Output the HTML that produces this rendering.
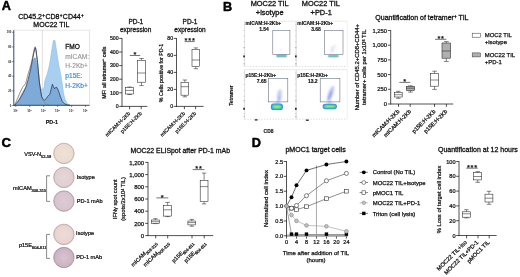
<!DOCTYPE html>
<html lang="en"><head><meta charset="utf-8"><title>Figure</title>
<style>
html,body{margin:0;padding:0;background:#fff;}
body{width:520px;height:277px;overflow:hidden;}
svg{display:block;font-family:"Liberation Sans", Arial, sans-serif;}
</style></head><body>
<svg width="520" height="277" viewBox="0 0 520 277">
<rect x="0" y="0" width="520" height="277" fill="#ffffff"/>
<text x="1.80" y="10.40" font-size="12.7" text-anchor="start" fill="#000" font-weight="bold" stroke="#000" stroke-width="0.5" stroke-linejoin="round">A</text>
<text x="51.00" y="18.60" font-size="7" text-anchor="middle" fill="#111" stroke="#111" stroke-width="0.29">CD45.2<tspan dy="-2" dx="0.3" font-size="4.6">+</tspan><tspan dy="2" font-size="1.6"> </tspan>CD8<tspan dy="-2" dx="0.3" font-size="4.6">+</tspan><tspan dy="2" font-size="1.6"> </tspan>CD44<tspan dy="-2" dx="0.3" font-size="4.6">+</tspan><tspan dy="2" font-size="1.6"> </tspan></text>
<text x="51.40" y="27.10" font-size="7" text-anchor="middle" fill="#111" stroke="#111" stroke-width="0.29">MOC22 TIL</text>
<line x1="13.80" y1="30.20" x2="89.60" y2="30.20" stroke="#c8c8c8" stroke-width="0.5"/>
<line x1="89.60" y1="30.20" x2="89.60" y2="105.30" stroke="#c8c8c8" stroke-width="0.5"/>
<line x1="42.30" y1="30.20" x2="42.30" y2="105.30" stroke="#bdbdbd" stroke-width="0.5"/>
<path d="M14.4,105.3 L16.0,103.8 L18.0,101.3 L20.0,97.3 L22.4,92.3 L25.0,88.3 L27.4,83.3 L29.6,74.3 L31.4,66.3 L33.0,60.3 L34.4,57.8 L35.6,58.3 L36.8,63.3 L38.0,72.3 L39.0,79.8 L39.9,86.8 L40.8,88.9 L43.4,89.1 L44.1,86.8 L44.8,80.8 L46.0,77.3 L47.3,73.8 L49.1,66.4 L50.2,60.3 L51.2,53.8 L52.0,48.8 L52.8,43.8 L53.5,40.3 L54.1,42.8 L54.8,40.1 L55.5,43.8 L56.3,48.8 L57.1,53.8 L58.0,60.3 L59.1,66.4 L60.9,75.3 L62.3,84.3 L63.6,93.3 L65.0,99.3 L67.0,103.3 L70.0,105.3" fill="#a9cff0" stroke="#7fb4e4" stroke-width="0.5" fill-opacity="1" stroke-linejoin="round"/>
<clipPath id="bclip"><path d="M14.4,105.3 L16.0,103.8 L18.0,101.3 L20.0,97.3 L22.4,92.3 L25.0,88.3 L27.4,83.3 L29.6,74.3 L31.4,66.3 L33.0,60.3 L34.4,57.8 L35.6,58.3 L36.8,63.3 L38.0,72.3 L39.0,79.8 L39.9,86.8 L40.8,88.9 L43.4,89.1 L44.1,86.8 L44.8,80.8 L46.0,77.3 L47.3,73.8 L49.1,66.4 L50.2,60.3 L51.2,53.8 L52.0,48.8 L52.8,43.8 L53.5,40.3 L54.1,42.8 L54.8,40.1 L55.5,43.8 L56.3,48.8 L57.1,53.8 L58.0,60.3 L59.1,66.4 L60.9,75.3 L62.3,84.3 L63.6,93.3 L65.0,99.3 L67.0,103.3 L70.0,105.3Z"/></clipPath>
<path d="M14.4,105.3 L15.5,103.3 L17.0,99.8 L19.5,93.8 L22.2,87.8 L24.2,85.3 L25.8,83.3 L27.6,75.8 L29.6,69.3 L30.9,64.8 L32.2,59.3 L33.3,53.8 L34.3,48.8 L35.0,46.8 L35.7,48.8 L36.4,54.3 L37.2,61.3 L37.9,66.8 L38.8,75.3 L39.8,85.3 L41.0,94.3 L42.6,99.8 L45.0,103.3 L49.0,105.3" fill="#ffffff" stroke="#8a8a8a" stroke-width="0.6" fill-opacity="0.0" stroke-linejoin="round"/>
<path d="M14.4,105.3 L16.0,103.8 L18.5,100.8 L21.0,96.8 L23.5,92.3 L26.0,86.8 L28.2,79.3 L30.2,71.3 L31.6,64.3 L32.8,58.3 L33.9,52.8 L34.8,48.8 L35.4,47.7 L36.1,50.3 L36.8,55.8 L37.6,62.3 L38.3,71.3 L39.1,80.3 L40.3,88.7 L41.6,96.5 L43.3,99.5 L44.6,100.3 L46.0,98.8 L47.6,96.5 L49.8,94.3 L51.1,89.5 L52.4,84.3 L53.5,86.8 L54.6,88.7 L55.6,87.5 L56.7,87.3 L57.8,89.3 L58.9,92.1 L60.6,97.3 L62.4,101.6 L64.5,103.8 L67.0,104.9 L70.0,105.3Z" fill="#7daad7" clip-path="url(#bclip)"/>
<path d="M14.4,105.3 L15.5,103.3 L17.0,99.8 L19.5,93.8 L22.2,87.8 L24.2,85.3 L25.8,83.3 L27.6,75.8 L29.6,69.3 L30.9,64.8 L32.2,59.3 L33.3,53.8 L34.3,48.8 L35.0,46.8 L35.7,48.8 L36.4,54.3 L37.2,61.3 L37.9,66.8 L38.8,75.3 L39.8,85.3 L41.0,94.3 L42.6,99.8 L45.0,103.3 L49.0,105.3" fill="none" stroke="#8a8a8a" stroke-width="0.6" fill-opacity="0.0" stroke-linejoin="round"/>
<path d="M14.4,105.3 L16.0,103.8 L18.5,100.8 L21.0,96.8 L23.5,92.3 L26.0,86.8 L28.2,79.3 L30.2,71.3 L31.6,64.3 L32.8,58.3 L33.9,52.8 L34.8,48.8 L35.4,47.7 L36.1,50.3 L36.8,55.8 L37.6,62.3 L38.3,71.3 L39.1,80.3 L40.3,88.7 L41.6,96.5 L43.3,99.5 L44.6,100.3 L46.0,98.8 L47.6,96.5 L49.8,94.3 L51.1,89.5 L52.4,84.3 L53.5,86.8 L54.6,88.7 L55.6,87.5 L56.7,87.3 L57.8,89.3 L58.9,92.1 L60.6,97.3 L62.4,101.6 L64.5,103.8 L67.0,104.9 L70.0,105.3" fill="none" stroke="#1e2d4a" stroke-width="0.7" fill-opacity="0.0" stroke-linejoin="round"/>
<line x1="13.80" y1="30.20" x2="13.80" y2="105.70" stroke="#1d3557" stroke-width="0.9"/>
<line x1="13.80" y1="105.30" x2="89.60" y2="105.30" stroke="#1d3557" stroke-width="0.9"/>
<line x1="12.20" y1="32.30" x2="13.80" y2="32.30" stroke="#1d3557" stroke-width="0.6"/>
<line x1="12.20" y1="46.94" x2="13.80" y2="46.94" stroke="#1d3557" stroke-width="0.6"/>
<line x1="12.20" y1="61.58" x2="13.80" y2="61.58" stroke="#1d3557" stroke-width="0.6"/>
<line x1="12.20" y1="76.22" x2="13.80" y2="76.22" stroke="#1d3557" stroke-width="0.6"/>
<line x1="12.20" y1="90.86" x2="13.80" y2="90.86" stroke="#1d3557" stroke-width="0.6"/>
<line x1="12.20" y1="105.50" x2="13.80" y2="105.50" stroke="#1d3557" stroke-width="0.6"/>
<text x="11.40" y="33.30" font-size="2.8" text-anchor="end" fill="#222" font-weight="bold">100</text>
<text x="11.40" y="47.94" font-size="2.8" text-anchor="end" fill="#222" font-weight="bold">80</text>
<text x="11.40" y="62.58" font-size="2.8" text-anchor="end" fill="#222" font-weight="bold">60</text>
<text x="11.40" y="77.22" font-size="2.8" text-anchor="end" fill="#222" font-weight="bold">40</text>
<text x="11.40" y="91.86" font-size="2.8" text-anchor="end" fill="#222" font-weight="bold">20</text>
<text x="11.40" y="106.50" font-size="2.8" text-anchor="end" fill="#222" font-weight="bold">0</text>
<line x1="15.80" y1="105.30" x2="15.80" y2="106.90" stroke="#1d3557" stroke-width="0.6"/>
<text x="15.50" y="112.40" font-size="3.0" text-anchor="middle" fill="#222" font-weight="bold">10<tspan dy="-1.1" font-size="2.2">0</tspan></text>
<line x1="29.75" y1="105.30" x2="29.75" y2="106.90" stroke="#1d3557" stroke-width="0.6"/>
<text x="29.45" y="112.40" font-size="3.0" text-anchor="middle" fill="#222" font-weight="bold">10<tspan dy="-1.1" font-size="2.2">1</tspan></text>
<line x1="43.70" y1="105.30" x2="43.70" y2="106.90" stroke="#1d3557" stroke-width="0.6"/>
<text x="43.40" y="112.40" font-size="3.0" text-anchor="middle" fill="#222" font-weight="bold">10<tspan dy="-1.1" font-size="2.2">2</tspan></text>
<line x1="57.65" y1="105.30" x2="57.65" y2="106.90" stroke="#1d3557" stroke-width="0.6"/>
<text x="57.35" y="112.40" font-size="3.0" text-anchor="middle" fill="#222" font-weight="bold">10<tspan dy="-1.1" font-size="2.2">3</tspan></text>
<line x1="71.60" y1="105.30" x2="71.60" y2="106.90" stroke="#1d3557" stroke-width="0.6"/>
<text x="71.30" y="112.40" font-size="3.0" text-anchor="middle" fill="#222" font-weight="bold">10<tspan dy="-1.1" font-size="2.2">4</tspan></text>
<line x1="85.55" y1="105.30" x2="85.55" y2="106.90" stroke="#1d3557" stroke-width="0.6"/>
<text x="85.25" y="112.40" font-size="3.0" text-anchor="middle" fill="#222" font-weight="bold">10<tspan dy="-1.1" font-size="2.2">5</tspan></text>
<text x="51.80" y="124.00" font-size="5.4" text-anchor="middle" fill="#111" font-weight="bold" stroke="#111" stroke-width="0.15">PD-1</text>
<text x="65.30" y="48.50" font-size="6.6" text-anchor="start" fill="#111" stroke="#111" stroke-width="0.28">FMO</text>
<text x="65.30" y="59.40" font-size="6.6" text-anchor="start" fill="#939393" font-weight="400" stroke="#939393" stroke-width="0.12">mICAM:</text>
<text x="65.30" y="68.40" font-size="6.6" text-anchor="start" fill="#939393" font-weight="400" stroke="#939393" stroke-width="0.12">H-2Kb+</text>
<text x="65.30" y="78.40" font-size="6.6" text-anchor="start" fill="#3d88d4" font-weight="400" stroke="#3d88d4" stroke-width="0.15">p15E:</text>
<text x="65.30" y="87.70" font-size="6.6" text-anchor="start" fill="#3d88d4" font-weight="400" stroke="#3d88d4" stroke-width="0.15">H-2Kb+</text>
<text x="135.80" y="24.20" font-size="6.5" text-anchor="middle" fill="#111" stroke="#111" stroke-width="0.27">PD-1</text>
<text x="135.60" y="31.80" font-size="6.5" text-anchor="middle" fill="#111" stroke="#111" stroke-width="0.27">expression</text>
<line x1="122.00" y1="38.03" x2="122.00" y2="106.78" stroke="#1a1a1a" stroke-width="0.75"/>
<line x1="119.20" y1="106.40" x2="122.00" y2="106.40" stroke="#1a1a1a" stroke-width="0.75"/>
<text x="118.60" y="108.27" font-size="5.2" text-anchor="end" fill="#111" stroke="#111" stroke-width="0.22">0</text>
<line x1="119.20" y1="92.80" x2="122.00" y2="92.80" stroke="#1a1a1a" stroke-width="0.75"/>
<text x="118.60" y="94.67" font-size="5.2" text-anchor="end" fill="#111" stroke="#111" stroke-width="0.22">100</text>
<line x1="119.20" y1="79.20" x2="122.00" y2="79.20" stroke="#1a1a1a" stroke-width="0.75"/>
<text x="118.60" y="81.07" font-size="5.2" text-anchor="end" fill="#111" stroke="#111" stroke-width="0.22">200</text>
<line x1="119.20" y1="65.60" x2="122.00" y2="65.60" stroke="#1a1a1a" stroke-width="0.75"/>
<text x="118.60" y="67.47" font-size="5.2" text-anchor="end" fill="#111" stroke="#111" stroke-width="0.22">300</text>
<line x1="119.20" y1="52.00" x2="122.00" y2="52.00" stroke="#1a1a1a" stroke-width="0.75"/>
<text x="118.60" y="53.87" font-size="5.2" text-anchor="end" fill="#111" stroke="#111" stroke-width="0.22">400</text>
<line x1="119.20" y1="38.40" x2="122.00" y2="38.40" stroke="#1a1a1a" stroke-width="0.75"/>
<text x="118.60" y="40.27" font-size="5.2" text-anchor="end" fill="#111" stroke="#111" stroke-width="0.22">500</text>
<line x1="121.62" y1="106.40" x2="147.40" y2="106.40" stroke="#1a1a1a" stroke-width="0.75"/>
<line x1="129.60" y1="106.40" x2="129.60" y2="109.20" stroke="#1a1a1a" stroke-width="0.75"/>
<line x1="141.20" y1="106.40" x2="141.20" y2="109.20" stroke="#1a1a1a" stroke-width="0.75"/>
<line x1="129.55" y1="87.00" x2="129.55" y2="87.60" stroke="#222" stroke-width="0.55"/>
<line x1="129.55" y1="94.00" x2="129.55" y2="94.50" stroke="#222" stroke-width="0.55"/>
<line x1="127.34" y1="87.00" x2="131.76" y2="87.00" stroke="#222" stroke-width="0.55"/>
<line x1="127.34" y1="94.50" x2="131.76" y2="94.50" stroke="#222" stroke-width="0.55"/>
<rect x="125.60" y="87.60" width="7.90" height="6.40" fill="#fff" stroke="#222" stroke-width="0.55"/>
<line x1="125.60" y1="90.40" x2="133.50" y2="90.40" stroke="#222" stroke-width="0.55"/>
<line x1="141.50" y1="58.50" x2="141.50" y2="60.40" stroke="#222" stroke-width="0.55"/>
<line x1="141.50" y1="82.20" x2="141.50" y2="85.60" stroke="#222" stroke-width="0.55"/>
<line x1="139.26" y1="58.50" x2="143.74" y2="58.50" stroke="#222" stroke-width="0.55"/>
<line x1="139.26" y1="85.60" x2="143.74" y2="85.60" stroke="#222" stroke-width="0.55"/>
<rect x="137.50" y="60.40" width="8.00" height="21.80" fill="#fff" stroke="#222" stroke-width="0.55"/>
<line x1="137.50" y1="73.00" x2="145.50" y2="73.00" stroke="#222" stroke-width="0.55"/>
<line x1="129.80" y1="55.50" x2="140.20" y2="55.50" stroke="#1a1a1a" stroke-width="0.6"/>
<text x="135.40" y="57.10" font-size="7.4" text-anchor="middle" fill="#111" font-weight="bold" stroke="#111" stroke-width="0.12" letter-spacing="0.8">*</text>
<text x="105.90" y="72.60" font-size="5.4" text-anchor="middle" fill="#111" stroke="#111" stroke-width="0.23" transform="rotate(-90 105.90 72.60)">MFI all tetramer<tspan dy="-1.5" font-size="3.8">+</tspan><tspan dy="1.5"> cells</tspan></text>
<text x="130.60" y="113.80" font-size="5.1" text-anchor="end" fill="#111" stroke="#111" stroke-width="0.21" transform="rotate(-45 130.60 113.80)">mICAM:H-2Kb</text>
<text x="142.20" y="113.80" font-size="5.1" text-anchor="end" fill="#111" stroke="#111" stroke-width="0.21" transform="rotate(-45 142.20 113.80)">p15E:H-2Kb</text>
<text x="190.00" y="24.20" font-size="6.5" text-anchor="middle" fill="#111" stroke="#111" stroke-width="0.27">PD-1</text>
<text x="190.00" y="31.80" font-size="6.5" text-anchor="middle" fill="#111" stroke="#111" stroke-width="0.27">expression</text>
<line x1="176.50" y1="38.03" x2="176.50" y2="106.78" stroke="#1a1a1a" stroke-width="0.75"/>
<line x1="173.70" y1="106.40" x2="176.50" y2="106.40" stroke="#1a1a1a" stroke-width="0.75"/>
<text x="173.10" y="108.27" font-size="5.2" text-anchor="end" fill="#111" stroke="#111" stroke-width="0.22">0</text>
<line x1="173.70" y1="89.40" x2="176.50" y2="89.40" stroke="#1a1a1a" stroke-width="0.75"/>
<text x="173.10" y="91.27" font-size="5.2" text-anchor="end" fill="#111" stroke="#111" stroke-width="0.22">20</text>
<line x1="173.70" y1="72.40" x2="176.50" y2="72.40" stroke="#1a1a1a" stroke-width="0.75"/>
<text x="173.10" y="74.27" font-size="5.2" text-anchor="end" fill="#111" stroke="#111" stroke-width="0.22">40</text>
<line x1="173.70" y1="55.40" x2="176.50" y2="55.40" stroke="#1a1a1a" stroke-width="0.75"/>
<text x="173.10" y="57.27" font-size="5.2" text-anchor="end" fill="#111" stroke="#111" stroke-width="0.22">60</text>
<line x1="173.70" y1="38.40" x2="176.50" y2="38.40" stroke="#1a1a1a" stroke-width="0.75"/>
<text x="173.10" y="40.27" font-size="5.2" text-anchor="end" fill="#111" stroke="#111" stroke-width="0.22">80</text>
<line x1="176.12" y1="106.40" x2="203.60" y2="106.40" stroke="#1a1a1a" stroke-width="0.75"/>
<line x1="184.40" y1="106.40" x2="184.40" y2="109.20" stroke="#1a1a1a" stroke-width="0.75"/>
<line x1="195.60" y1="106.40" x2="195.60" y2="109.20" stroke="#1a1a1a" stroke-width="0.75"/>
<line x1="184.85" y1="80.00" x2="184.85" y2="82.50" stroke="#222" stroke-width="0.55"/>
<line x1="184.85" y1="95.20" x2="184.85" y2="96.80" stroke="#222" stroke-width="0.55"/>
<line x1="182.69" y1="80.00" x2="187.01" y2="80.00" stroke="#222" stroke-width="0.55"/>
<line x1="182.69" y1="96.80" x2="187.01" y2="96.80" stroke="#222" stroke-width="0.55"/>
<rect x="181.00" y="82.50" width="7.70" height="12.70" fill="#fff" stroke="#222" stroke-width="0.55"/>
<line x1="181.00" y1="86.70" x2="188.70" y2="86.70" stroke="#222" stroke-width="0.55"/>
<line x1="195.85" y1="47.90" x2="195.85" y2="49.50" stroke="#222" stroke-width="0.55"/>
<line x1="195.85" y1="66.60" x2="195.85" y2="68.70" stroke="#222" stroke-width="0.55"/>
<line x1="193.69" y1="47.90" x2="198.01" y2="47.90" stroke="#222" stroke-width="0.55"/>
<line x1="193.69" y1="68.70" x2="198.01" y2="68.70" stroke="#222" stroke-width="0.55"/>
<rect x="192.00" y="49.50" width="7.70" height="17.10" fill="#fff" stroke="#222" stroke-width="0.55"/>
<line x1="192.00" y1="60.00" x2="199.70" y2="60.00" stroke="#222" stroke-width="0.55"/>
<line x1="184.60" y1="41.60" x2="194.70" y2="41.60" stroke="#1a1a1a" stroke-width="0.6"/>
<text x="190.05" y="43.20" font-size="7.4" text-anchor="middle" fill="#111" font-weight="bold" stroke="#111" stroke-width="0.12" letter-spacing="0.8">***</text>
<text x="163.10" y="73.00" font-size="5.3" text-anchor="middle" fill="#111" stroke="#111" stroke-width="0.22" transform="rotate(-90 163.10 73.00)">% Cells positive for PD-1</text>
<text x="185.40" y="113.80" font-size="5.1" text-anchor="end" fill="#111" stroke="#111" stroke-width="0.21" transform="rotate(-45 185.40 113.80)">mICAM:H-2Kb</text>
<text x="196.60" y="113.80" font-size="5.1" text-anchor="end" fill="#111" stroke="#111" stroke-width="0.21" transform="rotate(-45 196.60 113.80)">p15E:H-2Kb</text>
<text x="223.00" y="10.50" font-size="12.7" text-anchor="start" fill="#000" font-weight="bold" stroke="#000" stroke-width="0.5" stroke-linejoin="round">B</text>
<text x="269.70" y="6.10" font-size="7.4" text-anchor="middle" fill="#111" stroke="#111" stroke-width="0.31">MOC22 TIL</text>
<text x="269.70" y="14.60" font-size="7.4" text-anchor="middle" fill="#111" stroke="#111" stroke-width="0.31">+isotype</text>
<text x="320.90" y="6.10" font-size="7.4" text-anchor="middle" fill="#111" stroke="#111" stroke-width="0.31">MOC22 TIL</text>
<text x="321.20" y="14.60" font-size="7.4" text-anchor="middle" fill="#111" stroke="#111" stroke-width="0.31">+PD-1</text>
<line x1="244.60" y1="21.20" x2="295.40" y2="21.20" stroke="#d6d6d6" stroke-width="0.5"/>
<line x1="295.40" y1="21.20" x2="295.40" y2="66.40" stroke="#dedede" stroke-width="0.5"/>
<line x1="244.60" y1="21.20" x2="244.60" y2="66.40" stroke="#c4c4c4" stroke-width="0.5"/>
<line x1="244.6" y1="66.4" x2="295.4" y2="66.4" stroke="#b5b5b5" stroke-width="0.5" stroke-dasharray="1.2 1.6"/>
<line x1="244.0" y1="24.2" x2="244.0" y2="66.4" stroke="#aaa" stroke-width="0.6" stroke-dasharray="0.8 5"/>
<text x="245.50" y="25.40" font-size="4.9" text-anchor="start" fill="#111" font-weight="bold" stroke="#111" stroke-width="0.15">mICAM:H-2Kb+</text>
<text x="264.00" y="31.00" font-size="5.0" text-anchor="middle" fill="#111" font-weight="bold" stroke="#111" stroke-width="0.15">1.54</text>
<rect x="275.8" y="54.5" width="11.5" height="2.9" rx="1.3" ry="1.3" fill="#9ed4dc"/>
<rect x="277.0" y="55.0" width="9.1" height="1.9" rx="1.0" ry="1.0" fill="#6cc0c6"/>
<rect x="272.80" y="30.70" width="17.10" height="23.60" fill="none" stroke="#5d6675" stroke-width="0.55"/>
<rect x="243.30" y="55.40" width="1.50" height="2.00" fill="#111" stroke="none" stroke-width="0"/>
<rect x="243.70" y="47.40" width="0.80" height="0.70" fill="#666" stroke="none" stroke-width="0"/>
<rect x="243.70" y="63.40" width="0.80" height="0.70" fill="#666" stroke="none" stroke-width="0"/>
<line x1="296.40" y1="21.20" x2="347.20" y2="21.20" stroke="#d6d6d6" stroke-width="0.5"/>
<line x1="347.20" y1="21.20" x2="347.20" y2="66.40" stroke="#dedede" stroke-width="0.5"/>
<line x1="296.40" y1="21.20" x2="296.40" y2="66.40" stroke="#c4c4c4" stroke-width="0.5"/>
<line x1="296.4" y1="66.4" x2="347.2" y2="66.4" stroke="#b5b5b5" stroke-width="0.5" stroke-dasharray="1.2 1.6"/>
<line x1="295.79999999999995" y1="24.2" x2="295.79999999999995" y2="66.4" stroke="#aaa" stroke-width="0.6" stroke-dasharray="0.8 5"/>
<text x="297.30" y="25.40" font-size="4.9" text-anchor="start" fill="#111" font-weight="bold" stroke="#111" stroke-width="0.15">mICAM:H-2Kb+</text>
<text x="316.00" y="31.00" font-size="5.0" text-anchor="middle" fill="#111" font-weight="bold" stroke="#111" stroke-width="0.15">3.68</text>
<rect x="327.7" y="54.7" width="11.3" height="2.9" rx="1.3" ry="1.3" fill="#9ed4dc"/>
<rect x="328.9" y="55.2" width="8.9" height="1.9" rx="1.0" ry="1.0" fill="#6cc0c6"/>
<rect x="324.50" y="30.50" width="18.50" height="24.00" fill="none" stroke="#5d6675" stroke-width="0.55"/>
<rect x="295.10" y="55.40" width="1.50" height="2.00" fill="#111" stroke="none" stroke-width="0"/>
<rect x="295.50" y="47.40" width="0.80" height="0.70" fill="#666" stroke="none" stroke-width="0"/>
<rect x="295.50" y="63.40" width="0.80" height="0.70" fill="#666" stroke="none" stroke-width="0"/>
<line x1="244.60" y1="69.60" x2="295.40" y2="69.60" stroke="#d6d6d6" stroke-width="0.5"/>
<line x1="295.40" y1="69.60" x2="295.40" y2="119.20" stroke="#dedede" stroke-width="0.5"/>
<line x1="244.60" y1="69.60" x2="244.60" y2="119.20" stroke="#c4c4c4" stroke-width="0.5"/>
<line x1="244.6" y1="119.2" x2="295.4" y2="119.2" stroke="#b5b5b5" stroke-width="0.5" stroke-dasharray="1.2 1.6"/>
<line x1="244.0" y1="72.6" x2="244.0" y2="119.2" stroke="#aaa" stroke-width="0.6" stroke-dasharray="0.8 5"/>
<text x="245.50" y="76.60" font-size="4.9" text-anchor="start" fill="#111" font-weight="bold" stroke="#111" stroke-width="0.15">p15E:H-2Kb+</text>
<text x="261.60" y="83.20" font-size="5.0" text-anchor="middle" fill="#111" font-weight="bold" stroke="#111" stroke-width="0.15">7.65</text>
<rect x="270.9" y="103.6" width="12.0" height="6.4" rx="2.6" ry="2.6" fill="#3f86e4"/>
<rect x="271.7" y="104.3" width="10.4" height="5.0" rx="2.2" ry="2.2" fill="#2fc4d6"/>
<rect x="272.8" y="105.0" width="8.2" height="3.6" rx="1.8" ry="1.8" fill="#5fe070"/>
<rect x="274.3" y="105.9" width="5.2" height="1.8" rx="1.0" ry="1.0" fill="#9aec5a"/>
<rect x="268.70" y="78.50" width="19.10" height="23.40" fill="none" stroke="#5d6675" stroke-width="0.55"/>
<rect x="243.30" y="107.80" width="1.50" height="2.00" fill="#111" stroke="none" stroke-width="0"/>
<rect x="243.70" y="100.20" width="0.80" height="0.70" fill="#666" stroke="none" stroke-width="0"/>
<rect x="243.70" y="116.20" width="0.80" height="0.70" fill="#666" stroke="none" stroke-width="0"/>
<line x1="296.40" y1="69.60" x2="347.20" y2="69.60" stroke="#d6d6d6" stroke-width="0.5"/>
<line x1="347.20" y1="69.60" x2="347.20" y2="119.20" stroke="#dedede" stroke-width="0.5"/>
<line x1="296.40" y1="69.60" x2="296.40" y2="119.20" stroke="#c4c4c4" stroke-width="0.5"/>
<line x1="296.4" y1="119.2" x2="347.2" y2="119.2" stroke="#b5b5b5" stroke-width="0.5" stroke-dasharray="1.2 1.6"/>
<line x1="295.79999999999995" y1="72.6" x2="295.79999999999995" y2="119.2" stroke="#aaa" stroke-width="0.6" stroke-dasharray="0.8 5"/>
<text x="297.30" y="76.60" font-size="4.9" text-anchor="start" fill="#111" font-weight="bold" stroke="#111" stroke-width="0.15">p15E:H-2Kb+</text>
<text x="312.80" y="83.20" font-size="5.0" text-anchor="middle" fill="#111" font-weight="bold" stroke="#111" stroke-width="0.15">13.2</text>
<rect x="322.6" y="103.7" width="14.3" height="5.5" rx="2.6" ry="2.6" fill="#3f86e4"/>
<rect x="323.4" y="104.4" width="12.7" height="4.1" rx="2.2" ry="2.2" fill="#2fc4d6"/>
<rect x="324.5" y="105.1" width="10.5" height="2.7" rx="1.8" ry="1.8" fill="#5fe070"/>
<rect x="326.0" y="106.0" width="7.5" height="0.9" rx="1.0" ry="1.0" fill="#9aec5a"/>
<rect x="320.20" y="78.50" width="19.70" height="23.40" fill="none" stroke="#5d6675" stroke-width="0.55"/>
<rect x="295.10" y="107.80" width="1.50" height="2.00" fill="#111" stroke="none" stroke-width="0"/>
<rect x="295.50" y="100.20" width="0.80" height="0.70" fill="#666" stroke="none" stroke-width="0"/>
<rect x="295.50" y="116.20" width="0.80" height="0.70" fill="#666" stroke="none" stroke-width="0"/>
<filter id="bl" x="-50%" y="-50%" width="200%" height="200%"><feGaussianBlur stdDeviation="0.8"/></filter>
<g filter="url(#bl)">
<ellipse cx="279.4" cy="95.5" rx="2.4" ry="6.2" fill="#b4bcf2" fill-opacity="0.75" transform="rotate(6 279.4 95.5)"/>
<ellipse cx="279.2" cy="98.6" rx="1.3" ry="2.6" fill="#8f9fec" fill-opacity="0.6"/>
<ellipse cx="277.8" cy="102.6" rx="2.2" ry="1.0" fill="#5a8fe6" fill-opacity="0.7"/>
<ellipse cx="330.6" cy="93.6" rx="2.3" ry="8.2" fill="#a9b6f2" fill-opacity="0.8" transform="rotate(20 330.6 93.6)"/>
<ellipse cx="330.2" cy="95.5" rx="1.2" ry="5.0" fill="#7f93ea" fill-opacity="0.75" transform="rotate(20 330.2 95.5)"/>
<ellipse cx="329.4" cy="102.6" rx="2.4" ry="1.0" fill="#5a8fe6" fill-opacity="0.7"/>
<ellipse cx="332.4" cy="49.5" rx="1.8" ry="3.6" fill="#c6ccf4" fill-opacity="0.55" transform="rotate(14 332.4 49.5)"/>
<ellipse cx="281" cy="50" rx="1.2" ry="2.0" fill="#d6dcf6" fill-opacity="0.45"/>
<ellipse cx="335" cy="46" rx="1.0" ry="1.0" fill="#f0c8d8" fill-opacity="0.7"/>
</g>
<rect x="254.80" y="119.30" width="2.80" height="1.20" fill="#111" stroke="none" stroke-width="0"/>
<rect x="305.90" y="119.60" width="2.80" height="1.20" fill="#111" stroke="none" stroke-width="0"/>
<text x="232.60" y="95.50" font-size="4.9" text-anchor="middle" fill="#111" font-weight="bold" transform="rotate(-90 232.60 95.50)" stroke="#111" stroke-width="0.15">Tetramer</text>
<text x="268.50" y="132.80" font-size="4.9" text-anchor="middle" fill="#111" font-weight="bold" stroke="#111" stroke-width="0.15">CD8</text>
<text x="375.30" y="20.30" font-size="7" text-anchor="start" fill="#111" stroke="#111" stroke-width="0.29">Quantification of tetramer<tspan dy="-2" font-size="4.6">+</tspan><tspan dy="2"> TIL</tspan></text>
<line x1="390.70" y1="30.12" x2="390.70" y2="104.38" stroke="#1a1a1a" stroke-width="0.75"/>
<line x1="387.90" y1="104.00" x2="390.70" y2="104.00" stroke="#1a1a1a" stroke-width="0.75"/>
<text x="387.00" y="106.09" font-size="5.8" text-anchor="end" fill="#111" stroke="#111" stroke-width="0.24">0</text>
<line x1="387.90" y1="89.30" x2="390.70" y2="89.30" stroke="#1a1a1a" stroke-width="0.75"/>
<text x="387.00" y="91.39" font-size="5.8" text-anchor="end" fill="#111" stroke="#111" stroke-width="0.24">250</text>
<line x1="387.90" y1="74.60" x2="390.70" y2="74.60" stroke="#1a1a1a" stroke-width="0.75"/>
<text x="387.00" y="76.69" font-size="5.8" text-anchor="end" fill="#111" stroke="#111" stroke-width="0.24">500</text>
<line x1="387.90" y1="59.90" x2="390.70" y2="59.90" stroke="#1a1a1a" stroke-width="0.75"/>
<text x="387.00" y="61.99" font-size="5.8" text-anchor="end" fill="#111" stroke="#111" stroke-width="0.24">750</text>
<line x1="387.90" y1="45.20" x2="390.70" y2="45.20" stroke="#1a1a1a" stroke-width="0.75"/>
<text x="387.00" y="47.29" font-size="5.8" text-anchor="end" fill="#111" stroke="#111" stroke-width="0.24">1,000</text>
<line x1="387.90" y1="30.50" x2="390.70" y2="30.50" stroke="#1a1a1a" stroke-width="0.75"/>
<text x="387.00" y="32.59" font-size="5.8" text-anchor="end" fill="#111" stroke="#111" stroke-width="0.24">1,250</text>
<line x1="390.32" y1="104.00" x2="453.20" y2="104.00" stroke="#1a1a1a" stroke-width="0.75"/>
<line x1="398.50" y1="104.00" x2="398.50" y2="106.80" stroke="#1a1a1a" stroke-width="0.75"/>
<line x1="410.20" y1="104.00" x2="410.20" y2="106.80" stroke="#1a1a1a" stroke-width="0.75"/>
<line x1="434.50" y1="104.00" x2="434.50" y2="106.80" stroke="#1a1a1a" stroke-width="0.75"/>
<line x1="446.40" y1="104.00" x2="446.40" y2="106.80" stroke="#1a1a1a" stroke-width="0.75"/>
<line x1="398.25" y1="91.30" x2="398.25" y2="92.60" stroke="#222" stroke-width="0.55"/>
<line x1="398.25" y1="97.00" x2="398.25" y2="98.30" stroke="#222" stroke-width="0.55"/>
<line x1="396.04" y1="91.30" x2="400.46" y2="91.30" stroke="#222" stroke-width="0.55"/>
<line x1="396.04" y1="98.30" x2="400.46" y2="98.30" stroke="#222" stroke-width="0.55"/>
<rect x="394.30" y="92.60" width="7.90" height="4.40" fill="#fff" stroke="#222" stroke-width="0.55"/>
<line x1="394.30" y1="94.70" x2="402.20" y2="94.70" stroke="#222" stroke-width="0.55"/>
<line x1="410.45" y1="85.80" x2="410.45" y2="86.40" stroke="#222" stroke-width="0.55"/>
<line x1="410.45" y1="90.50" x2="410.45" y2="92.10" stroke="#222" stroke-width="0.55"/>
<line x1="408.13" y1="85.80" x2="412.77" y2="85.80" stroke="#222" stroke-width="0.55"/>
<line x1="408.13" y1="92.10" x2="412.77" y2="92.10" stroke="#222" stroke-width="0.55"/>
<rect x="406.30" y="86.40" width="8.30" height="4.10" fill="#b0b0b0" stroke="#222" stroke-width="0.55"/>
<line x1="406.30" y1="88.20" x2="414.60" y2="88.20" stroke="#222" stroke-width="0.55"/>
<line x1="434.55" y1="71.20" x2="434.55" y2="73.60" stroke="#222" stroke-width="0.55"/>
<line x1="434.55" y1="86.20" x2="434.55" y2="89.40" stroke="#222" stroke-width="0.55"/>
<line x1="432.28" y1="71.20" x2="436.82" y2="71.20" stroke="#222" stroke-width="0.55"/>
<line x1="432.28" y1="89.40" x2="436.82" y2="89.40" stroke="#222" stroke-width="0.55"/>
<rect x="430.50" y="73.60" width="8.10" height="12.60" fill="#fff" stroke="#222" stroke-width="0.55"/>
<line x1="430.50" y1="80.00" x2="438.60" y2="80.00" stroke="#222" stroke-width="0.55"/>
<line x1="446.30" y1="41.60" x2="446.30" y2="43.00" stroke="#222" stroke-width="0.55"/>
<line x1="446.30" y1="58.20" x2="446.30" y2="61.40" stroke="#222" stroke-width="0.55"/>
<line x1="443.89" y1="41.60" x2="448.71" y2="41.60" stroke="#222" stroke-width="0.55"/>
<line x1="443.89" y1="61.40" x2="448.71" y2="61.40" stroke="#222" stroke-width="0.55"/>
<rect x="442.00" y="43.00" width="8.60" height="15.20" fill="#b0b0b0" stroke="#222" stroke-width="0.55"/>
<line x1="442.00" y1="51.00" x2="450.60" y2="51.00" stroke="#222" stroke-width="0.55"/>
<line x1="399.30" y1="82.40" x2="410.30" y2="82.40" stroke="#1a1a1a" stroke-width="0.6"/>
<text x="405.20" y="84.00" font-size="7.4" text-anchor="middle" fill="#111" font-weight="bold" stroke="#111" stroke-width="0.12" letter-spacing="0.8">*</text>
<line x1="435.00" y1="39.30" x2="446.40" y2="39.30" stroke="#1a1a1a" stroke-width="0.6"/>
<text x="441.10" y="40.90" font-size="7.4" text-anchor="middle" fill="#111" font-weight="bold" stroke="#111" stroke-width="0.12" letter-spacing="0.8">**</text>
<text x="358.90" y="67.20" font-size="5.9" text-anchor="middle" fill="#111" stroke="#111" stroke-width="0.25" transform="rotate(-90 358.90 67.20)">Number of CD45.2+CD8+CD44+</text>
<text x="366.40" y="67.20" font-size="5.9" text-anchor="middle" fill="#111" stroke="#111" stroke-width="0.25" transform="rotate(-90 366.40 67.20)">tetramer+ cells per 1x10<tspan dy="-1.8" font-size="3.8">6</tspan><tspan dy="1.8"> TIL</tspan></text>
<text x="399.90" y="111.80" font-size="5.65" text-anchor="end" fill="#111" stroke="#111" stroke-width="0.24" transform="rotate(-45 399.90 111.80)">mICAM:H-2Kb</text>
<text x="411.60" y="111.80" font-size="5.65" text-anchor="end" fill="#111" stroke="#111" stroke-width="0.24" transform="rotate(-45 411.60 111.80)">mICAM:H-2Kb</text>
<text x="435.90" y="111.80" font-size="5.65" text-anchor="end" fill="#111" stroke="#111" stroke-width="0.24" transform="rotate(-45 435.90 111.80)">p15E:H-2Kb</text>
<text x="447.80" y="111.80" font-size="5.65" text-anchor="end" fill="#111" stroke="#111" stroke-width="0.24" transform="rotate(-45 447.80 111.80)">p15E:H-2Kb</text>
<rect x="472.20" y="33.20" width="8.10" height="4.00" fill="#fff" stroke="#333" stroke-width="0.5"/>
<text x="484.80" y="37.20" font-size="5.9" text-anchor="start" fill="#111" stroke="#111" stroke-width="0.25">MOC2 TIL</text>
<text x="484.80" y="44.00" font-size="5.9" text-anchor="start" fill="#111" stroke="#111" stroke-width="0.25">+isotype</text>
<rect x="472.20" y="52.90" width="8.10" height="4.00" fill="#b0b0b0" stroke="#333" stroke-width="0.5"/>
<text x="484.80" y="56.90" font-size="5.9" text-anchor="start" fill="#111" stroke="#111" stroke-width="0.25">MOC22 TIL</text>
<text x="484.80" y="64.40" font-size="5.9" text-anchor="start" fill="#111" stroke="#111" stroke-width="0.25">+PD-1</text>
<text x="1.50" y="147.00" font-size="13.2" text-anchor="start" fill="#000" font-weight="bold" stroke="#000" stroke-width="0.5" stroke-linejoin="round">C</text>
<defs>
<radialGradient id="w1" cx="50%" cy="50%" r="50%"><stop offset="0" stop-color="#efe1d8"/><stop offset="0.85" stop-color="#ebdbd1"/><stop offset="1" stop-color="#dccac0"/></radialGradient>
<radialGradient id="w2" cx="50%" cy="50%" r="50%"><stop offset="0" stop-color="#e6d6d8"/><stop offset="0.85" stop-color="#e1cfd2"/><stop offset="1" stop-color="#cfbcc0"/></radialGradient>
<radialGradient id="w3" cx="50%" cy="50%" r="50%"><stop offset="0" stop-color="#dccbd4"/><stop offset="0.85" stop-color="#d7c4ce"/><stop offset="1" stop-color="#c4afbb"/></radialGradient>
<radialGradient id="w4" cx="50%" cy="50%" r="50%"><stop offset="0" stop-color="#eedcd8"/><stop offset="0.85" stop-color="#e8d3d0"/><stop offset="1" stop-color="#d5bfbf"/></radialGradient>
<radialGradient id="w5" cx="50%" cy="50%" r="50%"><stop offset="0" stop-color="#d8c4d0"/><stop offset="0.85" stop-color="#cdb4c4"/><stop offset="1" stop-color="#b9a0b2"/></radialGradient>
</defs>
<circle cx="63.9" cy="153.4" r="10.25" fill="url(#w1)" stroke="#b3a29a" stroke-width="0.7"/>
<circle cx="63.9" cy="177.4" r="10.25" fill="url(#w2)" stroke="#b09da0" stroke-width="0.7"/>
<circle cx="63.9" cy="201.1" r="10.25" fill="url(#w3)" stroke="#a8939f" stroke-width="0.7"/>
<circle cx="63.9" cy="234.4" r="10.25" fill="url(#w4)" stroke="#b29c9c" stroke-width="0.7"/>
<circle cx="63.9" cy="257.5" r="10.25" fill="url(#w5)" stroke="#a38b9c" stroke-width="0.7"/>
<text x="24.30" y="155.90" font-size="5.6" text-anchor="start" fill="#111" stroke="#111" stroke-width="0.24">VSV-N<tspan dy="2.0" font-size="4.0">52-59</tspan></text>
<text x="12.90" y="189.70" font-size="5.6" text-anchor="start" fill="#111" stroke="#111" stroke-width="0.24">mICAM<tspan dy="2.0" font-size="4.0">308-315</tspan></text>
<text x="18.90" y="247.00" font-size="5.6" text-anchor="start" fill="#111" stroke="#111" stroke-width="0.24">p15E<tspan dy="2.0" font-size="4.0">604-611</tspan></text>
<path d="M50.0,175.8 H46.6 V201.4 H50.0" fill="none" stroke="#6a6a6a" stroke-width="0.8"/>
<path d="M50.0,234.4 H46.6 V258.4 H50.0" fill="none" stroke="#6a6a6a" stroke-width="0.8"/>
<text x="76.80" y="178.60" font-size="5.6" text-anchor="start" fill="#111" stroke="#111" stroke-width="0.24">Isotype</text>
<text x="76.80" y="202.60" font-size="5.6" text-anchor="start" fill="#111" stroke="#111" stroke-width="0.24">PD-1 mAb</text>
<text x="76.10" y="235.00" font-size="5.6" text-anchor="start" fill="#111" stroke="#111" stroke-width="0.24">Isotype</text>
<text x="76.30" y="258.60" font-size="5.6" text-anchor="start" fill="#111" stroke="#111" stroke-width="0.24">PD-1 mAb</text>
<text x="130.40" y="153.30" font-size="6.9" text-anchor="start" fill="#111" stroke="#111" stroke-width="0.29">MOC22 ELISpot after PD-1 mAb</text>
<line x1="148.00" y1="162.03" x2="148.00" y2="235.97" stroke="#1a1a1a" stroke-width="0.75"/>
<line x1="145.20" y1="235.60" x2="148.00" y2="235.60" stroke="#1a1a1a" stroke-width="0.75"/>
<text x="144.20" y="237.76" font-size="6.0" text-anchor="end" fill="#111" stroke="#111" stroke-width="0.25">0</text>
<line x1="145.20" y1="223.40" x2="148.00" y2="223.40" stroke="#1a1a1a" stroke-width="0.75"/>
<text x="144.20" y="225.56" font-size="6.0" text-anchor="end" fill="#111" stroke="#111" stroke-width="0.25">200</text>
<line x1="145.20" y1="211.20" x2="148.00" y2="211.20" stroke="#1a1a1a" stroke-width="0.75"/>
<text x="144.20" y="213.36" font-size="6.0" text-anchor="end" fill="#111" stroke="#111" stroke-width="0.25">400</text>
<line x1="145.20" y1="199.00" x2="148.00" y2="199.00" stroke="#1a1a1a" stroke-width="0.75"/>
<text x="144.20" y="201.16" font-size="6.0" text-anchor="end" fill="#111" stroke="#111" stroke-width="0.25">600</text>
<line x1="145.20" y1="186.80" x2="148.00" y2="186.80" stroke="#1a1a1a" stroke-width="0.75"/>
<text x="144.20" y="188.96" font-size="6.0" text-anchor="end" fill="#111" stroke="#111" stroke-width="0.25">800</text>
<line x1="145.20" y1="174.60" x2="148.00" y2="174.60" stroke="#1a1a1a" stroke-width="0.75"/>
<text x="144.20" y="176.76" font-size="6.0" text-anchor="end" fill="#111" stroke="#111" stroke-width="0.25">1,000</text>
<line x1="145.20" y1="162.40" x2="148.00" y2="162.40" stroke="#1a1a1a" stroke-width="0.75"/>
<text x="144.20" y="164.56" font-size="6.0" text-anchor="end" fill="#111" stroke="#111" stroke-width="0.25">1,200</text>
<line x1="147.62" y1="235.60" x2="213.20" y2="235.60" stroke="#1a1a1a" stroke-width="0.75"/>
<line x1="155.70" y1="235.60" x2="155.70" y2="238.40" stroke="#1a1a1a" stroke-width="0.75"/>
<line x1="167.70" y1="235.60" x2="167.70" y2="238.40" stroke="#1a1a1a" stroke-width="0.75"/>
<line x1="192.00" y1="235.60" x2="192.00" y2="238.40" stroke="#1a1a1a" stroke-width="0.75"/>
<line x1="204.20" y1="235.60" x2="204.20" y2="238.40" stroke="#1a1a1a" stroke-width="0.75"/>
<line x1="155.40" y1="218.70" x2="155.40" y2="220.00" stroke="#222" stroke-width="0.55"/>
<line x1="155.40" y1="223.30" x2="155.40" y2="223.60" stroke="#222" stroke-width="0.55"/>
<line x1="153.22" y1="218.70" x2="157.58" y2="218.70" stroke="#222" stroke-width="0.55"/>
<line x1="153.22" y1="223.60" x2="157.58" y2="223.60" stroke="#222" stroke-width="0.55"/>
<rect x="151.50" y="220.00" width="7.80" height="3.30" fill="#fff" stroke="#222" stroke-width="0.55"/>
<line x1="151.50" y1="221.70" x2="159.30" y2="221.70" stroke="#222" stroke-width="0.55"/>
<line x1="167.60" y1="202.40" x2="167.60" y2="205.60" stroke="#222" stroke-width="0.55"/>
<line x1="167.60" y1="216.10" x2="167.60" y2="216.60" stroke="#222" stroke-width="0.55"/>
<line x1="165.36" y1="202.40" x2="169.84" y2="202.40" stroke="#222" stroke-width="0.55"/>
<line x1="165.36" y1="216.60" x2="169.84" y2="216.60" stroke="#222" stroke-width="0.55"/>
<rect x="163.60" y="205.60" width="8.00" height="10.50" fill="#fff" stroke="#222" stroke-width="0.55"/>
<line x1="163.60" y1="209.80" x2="171.60" y2="209.80" stroke="#222" stroke-width="0.55"/>
<line x1="191.80" y1="219.40" x2="191.80" y2="221.00" stroke="#222" stroke-width="0.55"/>
<line x1="191.80" y1="224.90" x2="191.80" y2="226.20" stroke="#222" stroke-width="0.55"/>
<line x1="189.62" y1="219.40" x2="193.98" y2="219.40" stroke="#222" stroke-width="0.55"/>
<line x1="189.62" y1="226.20" x2="193.98" y2="226.20" stroke="#222" stroke-width="0.55"/>
<rect x="187.90" y="221.00" width="7.80" height="3.90" fill="#fff" stroke="#222" stroke-width="0.55"/>
<line x1="187.90" y1="222.60" x2="195.70" y2="222.60" stroke="#222" stroke-width="0.55"/>
<line x1="204.10" y1="173.10" x2="204.10" y2="180.30" stroke="#222" stroke-width="0.55"/>
<line x1="204.10" y1="201.70" x2="204.10" y2="203.90" stroke="#222" stroke-width="0.55"/>
<line x1="201.92" y1="173.10" x2="206.28" y2="173.10" stroke="#222" stroke-width="0.55"/>
<line x1="201.92" y1="203.90" x2="206.28" y2="203.90" stroke="#222" stroke-width="0.55"/>
<rect x="200.20" y="180.30" width="7.80" height="21.40" fill="#fff" stroke="#222" stroke-width="0.55"/>
<line x1="200.20" y1="186.60" x2="208.00" y2="186.60" stroke="#222" stroke-width="0.55"/>
<line x1="156.30" y1="197.90" x2="168.30" y2="197.90" stroke="#1a1a1a" stroke-width="0.6"/>
<text x="162.70" y="199.50" font-size="7.4" text-anchor="middle" fill="#111" font-weight="bold" stroke="#111" stroke-width="0.12" letter-spacing="0.8">*</text>
<line x1="192.60" y1="169.60" x2="204.50" y2="169.60" stroke="#1a1a1a" stroke-width="0.6"/>
<text x="198.95" y="171.20" font-size="7.4" text-anchor="middle" fill="#111" font-weight="bold" stroke="#111" stroke-width="0.12" letter-spacing="0.8">**</text>
<text x="116.60" y="199.20" font-size="5.7" text-anchor="middle" fill="#111" stroke="#111" stroke-width="0.24" transform="rotate(-90 116.60 199.20)">IFNγ spot count</text>
<text x="125.30" y="198.90" font-size="5.8" text-anchor="middle" fill="#111" stroke="#111" stroke-width="0.24" transform="rotate(-90 125.30 198.90)">(spots/2x10<tspan dy="-1.7" font-size="3.7">4</tspan><tspan dy="1.7"> TIL)</tspan></text>
<text x="157.00" y="243.30" font-size="5.55" text-anchor="end" fill="#111" stroke="#111" stroke-width="0.23" transform="rotate(-45 157.00 243.30)">mICAM<tspan dy="1.6" font-size="4.1">308-315</tspan></text>
<text x="169.30" y="243.30" font-size="5.55" text-anchor="end" fill="#111" stroke="#111" stroke-width="0.23" transform="rotate(-45 169.30 243.30)">mICAM<tspan dy="1.6" font-size="4.1">308-315</tspan></text>
<text x="193.70" y="243.30" font-size="5.55" text-anchor="end" fill="#111" stroke="#111" stroke-width="0.23" transform="rotate(-45 193.70 243.30)">p15E<tspan dy="1.6" font-size="4.1">604-611</tspan></text>
<text x="205.90" y="243.30" font-size="5.55" text-anchor="end" fill="#111" stroke="#111" stroke-width="0.23" transform="rotate(-45 205.90 243.30)">p15E<tspan dy="1.6" font-size="4.1">604-611</tspan></text>
<text x="251.80" y="146.60" font-size="12.7" text-anchor="start" fill="#000" font-weight="bold" stroke="#000" stroke-width="0.5" stroke-linejoin="round">D</text>
<text x="285.40" y="151.50" font-size="7.05" text-anchor="start" fill="#111" stroke="#111" stroke-width="0.30">pMOC1 target cells</text>
<line x1="316.45" y1="165.20" x2="316.45" y2="235.80" stroke="#555" stroke-width="0.5"/>
<line x1="286.50" y1="161.12" x2="286.50" y2="236.18" stroke="#1a1a1a" stroke-width="0.75"/>
<line x1="283.70" y1="235.80" x2="286.50" y2="235.80" stroke="#1a1a1a" stroke-width="0.75"/>
<text x="283.10" y="237.82" font-size="5.6" text-anchor="end" fill="#111" stroke="#111" stroke-width="0.24">0.0</text>
<line x1="283.70" y1="220.94" x2="286.50" y2="220.94" stroke="#1a1a1a" stroke-width="0.75"/>
<text x="283.10" y="222.96" font-size="5.6" text-anchor="end" fill="#111" stroke="#111" stroke-width="0.24">0.5</text>
<line x1="283.70" y1="206.08" x2="286.50" y2="206.08" stroke="#1a1a1a" stroke-width="0.75"/>
<text x="283.10" y="208.10" font-size="5.6" text-anchor="end" fill="#111" stroke="#111" stroke-width="0.24">1.0</text>
<line x1="283.70" y1="191.22" x2="286.50" y2="191.22" stroke="#1a1a1a" stroke-width="0.75"/>
<text x="283.10" y="193.24" font-size="5.6" text-anchor="end" fill="#111" stroke="#111" stroke-width="0.24">1.5</text>
<line x1="283.70" y1="176.36" x2="286.50" y2="176.36" stroke="#1a1a1a" stroke-width="0.75"/>
<text x="283.10" y="178.38" font-size="5.6" text-anchor="end" fill="#111" stroke="#111" stroke-width="0.24">2.0</text>
<line x1="283.70" y1="161.50" x2="286.50" y2="161.50" stroke="#1a1a1a" stroke-width="0.75"/>
<text x="283.10" y="163.52" font-size="5.6" text-anchor="end" fill="#111" stroke="#111" stroke-width="0.24">2.5</text>
<line x1="286.12" y1="235.80" x2="347.60" y2="235.80" stroke="#1a1a1a" stroke-width="0.75"/>
<line x1="286.50" y1="235.80" x2="286.50" y2="238.60" stroke="#1a1a1a" stroke-width="0.75"/>
<line x1="296.48" y1="235.80" x2="296.48" y2="238.60" stroke="#1a1a1a" stroke-width="0.75"/>
<line x1="306.47" y1="235.80" x2="306.47" y2="238.60" stroke="#1a1a1a" stroke-width="0.75"/>
<line x1="316.45" y1="235.80" x2="316.45" y2="238.60" stroke="#1a1a1a" stroke-width="0.75"/>
<line x1="326.44" y1="235.80" x2="326.44" y2="238.60" stroke="#1a1a1a" stroke-width="0.75"/>
<line x1="336.42" y1="235.80" x2="336.42" y2="238.60" stroke="#1a1a1a" stroke-width="0.75"/>
<line x1="346.40" y1="235.80" x2="346.40" y2="238.60" stroke="#1a1a1a" stroke-width="0.75"/>
<text x="286.50" y="244.10" font-size="5.6" text-anchor="middle" fill="#111" stroke="#111" stroke-width="0.24">0</text>
<text x="296.48" y="244.10" font-size="5.6" text-anchor="middle" fill="#111" stroke="#111" stroke-width="0.24">4</text>
<text x="306.47" y="244.10" font-size="5.6" text-anchor="middle" fill="#111" stroke="#111" stroke-width="0.24">8</text>
<text x="316.45" y="244.10" font-size="5.6" text-anchor="middle" fill="#111" stroke="#111" stroke-width="0.24">12</text>
<text x="326.44" y="244.10" font-size="5.6" text-anchor="middle" fill="#111" stroke="#111" stroke-width="0.24">16</text>
<text x="336.42" y="244.10" font-size="5.6" text-anchor="middle" fill="#111" stroke="#111" stroke-width="0.24">20</text>
<text x="346.40" y="244.10" font-size="5.6" text-anchor="middle" fill="#111" stroke="#111" stroke-width="0.24">24</text>
<text x="316.00" y="254.80" font-size="6.0" text-anchor="middle" fill="#111" stroke="#111" stroke-width="0.25">Time after addition of TIL</text>
<text x="316.00" y="262.20" font-size="6.0" text-anchor="middle" fill="#111" stroke="#111" stroke-width="0.25">(hours)</text>
<text x="267.60" y="198.60" font-size="6.0" text-anchor="middle" fill="#111" stroke="#111" stroke-width="0.25" transform="rotate(-90 267.60 198.60)">Normalized cell index</text>
<line x1="286.90" y1="235.60" x2="347.80" y2="235.60" stroke="#a6a6a6" stroke-width="2.0"/>
<polyline points="286.5,206.1 291.5,234.6 296.5,234.6 306.5,234.6 326.4,234.6 346.4,234.6" fill="none" stroke="#7a7a7a" stroke-width="0.7"/>
<rect x="289.79" y="232.41" width="3.40" height="3.40" fill="#000" stroke="none" stroke-width="0"/>
<rect x="294.78" y="232.41" width="3.40" height="3.40" fill="#000" stroke="none" stroke-width="0"/>
<rect x="304.77" y="232.41" width="3.40" height="3.40" fill="#000" stroke="none" stroke-width="0"/>
<rect x="324.74" y="232.41" width="3.40" height="3.40" fill="#000" stroke="none" stroke-width="0"/>
<rect x="344.70" y="232.41" width="3.40" height="3.40" fill="#000" stroke="none" stroke-width="0"/>
<polyline points="286.5,206.1 291.5,215.0 296.5,220.9 306.5,225.4 326.4,226.3 346.4,231.3" fill="none" stroke="#9a9a9a" stroke-width="0.6"/>
<circle cx="291.5" cy="215.0" r="1.85" fill="#c2c2c2" stroke="#8a8a8a" stroke-width="0.65"/>
<circle cx="296.5" cy="220.9" r="1.85" fill="#c2c2c2" stroke="#8a8a8a" stroke-width="0.65"/>
<circle cx="306.5" cy="225.4" r="1.85" fill="#c2c2c2" stroke="#8a8a8a" stroke-width="0.65"/>
<circle cx="326.4" cy="226.3" r="1.85" fill="#c2c2c2" stroke="#8a8a8a" stroke-width="0.65"/>
<circle cx="346.4" cy="231.3" r="1.85" fill="#c2c2c2" stroke="#8a8a8a" stroke-width="0.65"/>
<polyline points="286.5,206.1 291.5,208.2 296.5,209.6 306.5,206.7 326.4,198.7 346.4,191.2" fill="none" stroke="#444" stroke-width="0.6"/>
<rect x="289.64" y="206.31" width="3.70" height="3.70" fill="#fff" stroke="#333" stroke-width="0.6"/>
<rect x="294.63" y="207.80" width="3.70" height="3.70" fill="#fff" stroke="#333" stroke-width="0.6"/>
<rect x="304.62" y="204.82" width="3.70" height="3.70" fill="#fff" stroke="#333" stroke-width="0.6"/>
<rect x="324.59" y="196.80" width="3.70" height="3.70" fill="#fff" stroke="#333" stroke-width="0.6"/>
<rect x="344.55" y="189.37" width="3.70" height="3.70" fill="#fff" stroke="#333" stroke-width="0.6"/>
<polyline points="286.5,206.1 291.5,208.2 296.5,205.5 306.5,195.7 326.4,180.8 346.4,173.4" fill="none" stroke="#444" stroke-width="0.6"/>
<circle cx="291.5" cy="208.2" r="2.05" fill="#fff" stroke="#333" stroke-width="0.6"/>
<circle cx="296.5" cy="205.5" r="2.05" fill="#fff" stroke="#333" stroke-width="0.6"/>
<circle cx="306.5" cy="195.7" r="2.05" fill="#fff" stroke="#333" stroke-width="0.6"/>
<circle cx="326.4" cy="180.8" r="2.05" fill="#fff" stroke="#333" stroke-width="0.6"/>
<circle cx="346.4" cy="173.4" r="2.05" fill="#fff" stroke="#333" stroke-width="0.6"/>
<polyline points="286.5,206.1 291.5,197.2 296.5,185.3 306.5,170.4 326.4,164.5 346.4,161.5" fill="none" stroke="#111" stroke-width="0.6"/>
<circle cx="291.5" cy="197.2" r="1.95" fill="#000"/>
<circle cx="296.5" cy="185.3" r="1.95" fill="#000"/>
<circle cx="306.5" cy="170.4" r="1.95" fill="#000"/>
<circle cx="326.4" cy="164.5" r="1.95" fill="#000"/>
<circle cx="346.4" cy="161.5" r="1.95" fill="#000"/>
<circle cx="286.5" cy="206.1" r="2.0" fill="#b4b4b4" stroke="#666" stroke-width="0.55"/>
<line x1="359.60" y1="172.30" x2="368.00" y2="172.30" stroke="#333" stroke-width="0.6"/>
<circle cx="363.8" cy="172.3" r="1.9" fill="#000"/>
<text x="372.70" y="174.40" font-size="5.95" text-anchor="start" fill="#111" stroke="#111" stroke-width="0.25">Control (No TIL)</text>
<line x1="359.60" y1="182.50" x2="368.00" y2="182.50" stroke="#333" stroke-width="0.6"/>
<circle cx="363.8" cy="182.5" r="1.95" fill="#fff" stroke="#333" stroke-width="0.55"/>
<text x="372.70" y="184.60" font-size="5.95" text-anchor="start" fill="#111" stroke="#111" stroke-width="0.25">MOC22 TIL+isotype</text>
<line x1="359.60" y1="192.60" x2="368.00" y2="192.60" stroke="#333" stroke-width="0.6"/>
<rect x="362.00" y="190.80" width="3.60" height="3.60" fill="#fff" stroke="#333" stroke-width="0.55"/>
<text x="372.70" y="194.70" font-size="5.95" text-anchor="start" fill="#111" stroke="#111" stroke-width="0.25">pMOC1 TIL</text>
<line x1="359.60" y1="202.80" x2="368.00" y2="202.80" stroke="#9a9a9a" stroke-width="0.6"/>
<circle cx="363.8" cy="202.8" r="1.8" fill="#c2c2c2" stroke="#8a8a8a" stroke-width="0.6"/>
<text x="372.70" y="204.90" font-size="5.95" text-anchor="start" fill="#111" stroke="#111" stroke-width="0.25">MOC22 TIL+PD-1</text>
<line x1="359.60" y1="213.40" x2="368.00" y2="213.40" stroke="#333" stroke-width="0.6"/>
<rect x="362.10" y="211.70" width="3.40" height="3.40" fill="#000" stroke="none" stroke-width="0"/>
<text x="372.70" y="215.50" font-size="5.95" text-anchor="start" fill="#111" stroke="#111" stroke-width="0.25">Triton (cell lysis)</text>
<text x="438.00" y="152.10" font-size="7.0" text-anchor="start" fill="#111" stroke="#111" stroke-width="0.29">Quantification at 12 hours</text>
<line x1="459.00" y1="161.12" x2="459.00" y2="235.88" stroke="#1a1a1a" stroke-width="0.75"/>
<line x1="456.20" y1="235.50" x2="459.00" y2="235.50" stroke="#1a1a1a" stroke-width="0.75"/>
<text x="455.60" y="237.52" font-size="5.6" text-anchor="end" fill="#111" stroke="#111" stroke-width="0.24">0</text>
<line x1="456.20" y1="220.70" x2="459.00" y2="220.70" stroke="#1a1a1a" stroke-width="0.75"/>
<text x="455.60" y="222.72" font-size="5.6" text-anchor="end" fill="#111" stroke="#111" stroke-width="0.24">20</text>
<line x1="456.20" y1="205.90" x2="459.00" y2="205.90" stroke="#1a1a1a" stroke-width="0.75"/>
<text x="455.60" y="207.92" font-size="5.6" text-anchor="end" fill="#111" stroke="#111" stroke-width="0.24">40</text>
<line x1="456.20" y1="191.10" x2="459.00" y2="191.10" stroke="#1a1a1a" stroke-width="0.75"/>
<text x="455.60" y="193.12" font-size="5.6" text-anchor="end" fill="#111" stroke="#111" stroke-width="0.24">60</text>
<line x1="456.20" y1="176.30" x2="459.00" y2="176.30" stroke="#1a1a1a" stroke-width="0.75"/>
<text x="455.60" y="178.32" font-size="5.6" text-anchor="end" fill="#111" stroke="#111" stroke-width="0.24">80</text>
<line x1="456.20" y1="161.50" x2="459.00" y2="161.50" stroke="#1a1a1a" stroke-width="0.75"/>
<text x="455.60" y="163.52" font-size="5.6" text-anchor="end" fill="#111" stroke="#111" stroke-width="0.24">100</text>
<line x1="458.62" y1="235.50" x2="496.60" y2="235.50" stroke="#1a1a1a" stroke-width="0.75"/>
<line x1="466.60" y1="235.50" x2="466.60" y2="238.30" stroke="#1a1a1a" stroke-width="0.75"/>
<line x1="478.00" y1="235.50" x2="478.00" y2="238.30" stroke="#1a1a1a" stroke-width="0.75"/>
<line x1="489.20" y1="235.50" x2="489.20" y2="238.30" stroke="#1a1a1a" stroke-width="0.75"/>
<line x1="466.45" y1="209.70" x2="466.45" y2="211.80" stroke="#222" stroke-width="0.55"/>
<line x1="466.45" y1="217.20" x2="466.45" y2="217.90" stroke="#222" stroke-width="0.55"/>
<line x1="464.24" y1="209.70" x2="468.66" y2="209.70" stroke="#222" stroke-width="0.55"/>
<line x1="464.24" y1="217.90" x2="468.66" y2="217.90" stroke="#222" stroke-width="0.55"/>
<rect x="462.50" y="211.80" width="7.90" height="5.40" fill="#fff" stroke="#222" stroke-width="0.55"/>
<line x1="462.50" y1="213.80" x2="470.40" y2="213.80" stroke="#222" stroke-width="0.55"/>
<line x1="477.70" y1="171.60" x2="477.70" y2="172.70" stroke="#222" stroke-width="0.55"/>
<line x1="477.70" y1="179.90" x2="477.70" y2="182.30" stroke="#222" stroke-width="0.55"/>
<line x1="475.46" y1="171.60" x2="479.94" y2="171.60" stroke="#222" stroke-width="0.55"/>
<line x1="475.46" y1="182.30" x2="479.94" y2="182.30" stroke="#222" stroke-width="0.55"/>
<rect x="473.70" y="172.70" width="8.00" height="7.20" fill="#fff" stroke="#222" stroke-width="0.55"/>
<line x1="473.70" y1="176.50" x2="481.70" y2="176.50" stroke="#222" stroke-width="0.55"/>
<line x1="488.95" y1="191.30" x2="488.95" y2="194.20" stroke="#222" stroke-width="0.55"/>
<line x1="488.95" y1="202.00" x2="488.95" y2="204.30" stroke="#222" stroke-width="0.55"/>
<line x1="486.74" y1="191.30" x2="491.16" y2="191.30" stroke="#222" stroke-width="0.55"/>
<line x1="486.74" y1="204.30" x2="491.16" y2="204.30" stroke="#222" stroke-width="0.55"/>
<rect x="485.00" y="194.20" width="7.90" height="7.80" fill="#fff" stroke="#222" stroke-width="0.55"/>
<line x1="485.00" y1="198.20" x2="492.90" y2="198.20" stroke="#222" stroke-width="0.55"/>
<line x1="466.20" y1="168.20" x2="477.80" y2="168.20" stroke="#1a1a1a" stroke-width="0.6"/>
<text x="472.40" y="169.80" font-size="7.4" text-anchor="middle" fill="#111" font-weight="bold" stroke="#111" stroke-width="0.12" letter-spacing="0.8">***</text>
<text x="441.20" y="199.40" font-size="5.8" text-anchor="middle" fill="#111" stroke="#111" stroke-width="0.24" transform="rotate(-90 441.20 199.40)">% Loss of target cell index</text>
<text x="467.30" y="242.70" font-size="5.7" text-anchor="end" fill="#111" stroke="#111" stroke-width="0.24" transform="rotate(-45 467.30 242.70)">MOC22 TIL+iso</text>
<text x="478.70" y="242.70" font-size="5.7" text-anchor="end" fill="#111" stroke="#111" stroke-width="0.24" transform="rotate(-45 478.70 242.70)">MOC22 TIL+PD-1</text>
<text x="489.90" y="242.70" font-size="5.7" text-anchor="end" fill="#111" stroke="#111" stroke-width="0.24" transform="rotate(-45 489.90 242.70)">pMOC1 TIL</text>
</svg>
</body></html>
